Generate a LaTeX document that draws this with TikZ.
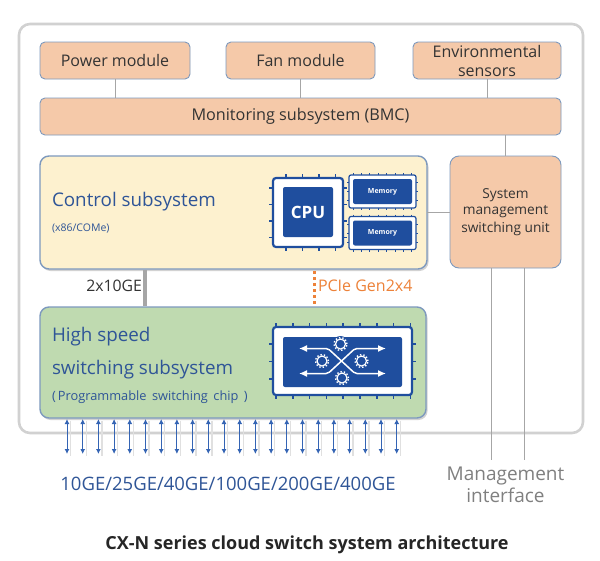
\documentclass[tikz,border=0pt]{standalone}
\usepackage{fontspec}
\setmainfont{Open Sans}
\usetikzlibrary{arrows.meta,shadows}
\definecolor{peach}{HTML}{F5C9A9}
\definecolor{cream}{HTML}{FDF1CF}
\definecolor{sage}{HTML}{BFDAB0}
\definecolor{bord}{HTML}{7D99BE}
\definecolor{chip}{HTML}{1F4E9E}
\definecolor{linkblue}{HTML}{3464B4}
\definecolor{bluetxt}{HTML}{2F5597}
\definecolor{grayline}{HTML}{A6A6A6}
\definecolor{dtxt}{HTML}{333333}
\definecolor{orangeln}{HTML}{ED8239}
\tikzset{
  every node/.style={inner sep=0pt,outer sep=0pt,align=center},
  peachbox/.style={draw=bord,line width=0.9pt,fill=peach,rounded corners=5pt,text=dtxt,font=\fontsize{16}{19}\selectfont},
  bigbox/.style={draw=bord,line width=1.4pt,rounded corners=9pt,drop shadow={shadow xshift=1.5pt,shadow yshift=-2pt,opacity=0.35,fill=gray}},
  conn/.style={draw=grayline,line width=0.9pt},
  pin/.style={draw=chip,line width=1.6pt},
  chipframe/.style={draw=chip,fill=white,line width=2.2pt,rounded corners=3pt},
  chipcore/.style={fill=chip,rounded corners=2pt,text=white},
  bilink/.style={draw=linkblue,line width=1pt,{Latex[length=5pt,width=5pt]}-{Latex[length=5pt,width=5pt]}},
  shadowlink/.style={draw=black!12,line width=1.4pt},
  flowarrow/.style={draw=white,line width=1.5pt,{Latex[length=8pt,width=7pt]}-{Latex[length=8pt,width=7pt]},rounded corners=2pt},
  gear/.style={draw=white,line width=1.2pt},
  bluelabel/.style={text=bluetxt,anchor=west}
}
\begin{document}
\begin{tikzpicture}[x=1pt,y=-1pt]
\useasboundingbox (0,0) rectangle (600,560);
\fill[white] (0,0) rectangle (600,560);
\draw[draw=black!18,line width=2.6pt,rounded corners=11pt,fill=white] (19,24) rectangle (583,433);
% peach boxes
\node[peachbox,minimum width=150pt,minimum height=37pt] (power) at (115,60.5) {Power module};
\node[peachbox,minimum width=149pt,minimum height=37pt] (fan) at (300.5,60.5) {Fan module};
\node[peachbox,minimum width=148pt,minimum height=37pt] (env) at (487,60.5) {\fontsize{16}{18.5}\selectfont Environmental\\sensors};
\node[peachbox,minimum width=521pt,minimum height=37pt] (bmc) at (300.5,116.5) {\fontsize{16.2}{19}\selectfont Monitoring subsystem (BMC)};
\node[peachbox,rounded corners=9pt,minimum width=111pt,minimum height=112pt,font=\fontsize{13.7}{17.5}\selectfont] (sms) at (505.5,212) {\raisebox{-4pt}{System}\\\raisebox{-2.5pt}{management}\\\raisebox{-2.5pt}{switching unit}};
% connectors top
\draw[conn] (power.south) -- (power.south |- bmc.north);
\draw[conn] (fan.south) -- (fan.south |- bmc.north);
\draw[conn] (env.south) -- (env.south |- bmc.north);
\draw[conn] (sms.north |- bmc.south) -- (sms.north);
% big boxes
\node[bigbox,fill=cream,minimum width=387pt,minimum height=113pt] (ctrl) at (233.5,212.5) {};
\node[bigbox,fill=sage,minimum width=386pt,minimum height=111pt] (hs) at (233,362.5) {};
\draw[conn] (ctrl.east |- sms.west) -- (sms.west);
% links between
\coordinate (ga) at (145,270);
\coordinate (gb) at (145,306);
\coordinate (pa) at (314,271);
\coordinate (pb) at (314,306);
\draw[draw=grayline,line width=3.6pt] (ga) -- (gb);
\draw[draw=orangeln,line width=3pt,dash pattern=on 3pt off 3pt] (pa) -- (pb);
\node[anchor=east,text=dtxt,font=\fontsize{15.8}{19}\selectfont] (l10) at (142,286) {2x10GE};
\node[anchor=west,text=orangeln,font=\fontsize{16}{19}\selectfont] (lpcie) at (318,286) {PCIe Gen2x4};
% texts
\node[bluelabel,font=\fontsize{18.8}{22}\selectfont] (c1) at (52,202) {Control subsystem};
\node[bluelabel,font=\fontsize{10.5}{14}\selectfont] (c2) at (52,229) {(x86/COMe)};
\node[bluelabel,font=\fontsize{18.8}{22}\selectfont] (h1) at (52,336.5) {High speed};
\node[bluelabel,font=\fontsize{18.8}{22}\selectfont] (h2) at (52,370) {switching subsystem};
\node[bluelabel,font=\fontsize{12.8}{15}\selectfont] (h3) at (52,397) {(\,Programmable\, switching\, chip\, )};
% CPU chip
\foreach \p in {0,1,2,3}{
  \draw[pin] ({286+\p*16.5},174) -- ({286+\p*16.5},251);
  \draw[pin] (269,{188+\p*16.5}) -- (347,{188+\p*16.5});
}
\node[chipframe,minimum width=70pt,minimum height=69pt] (cpu) at (308,212.5) {};
\node[chipcore,minimum width=50pt,minimum height=50pt,font=\bfseries\fontsize{17}{20}\selectfont] (cpucore) at (308,212) {CPU};
% memory chips
\foreach \cy/\nm in {191.5/Memory,233/Memory}{
  \foreach \p in {0,...,7}{
    \draw[draw=chip,line width=0.8pt] ({353+\p*8.4},{\cy-18.5}) -- ({353+\p*8.4},{\cy+18.5});
  }
  \foreach \p in {0,1,2}{
    \draw[draw=chip,line width=0.8pt] (347,{\cy-9+\p*9}) -- (418,{\cy-9+\p*9});
  }
  \node[draw=chip,fill=white,line width=1.2pt,rounded corners=2pt,minimum width=67pt,minimum height=33pt] at (382.5,\cy) {};
  \node[chipcore,minimum width=59pt,minimum height=25pt,font=\bfseries\fontsize{7}{9}\selectfont] at (382.5,\cy) {\nm};
}
% switch chip
\foreach \p in {0,...,8}{
  \draw[pin] ({276+\p*16.8},323) -- ({276+\p*16.8},399);
}
\foreach \p in {0,1,2}{
  \draw[pin] (269,{344+\p*17.5}) -- (416,{344+\p*17.5});
}
\node[chipframe,minimum width=139pt,minimum height=68pt] (sw) at (342.5,361) {};
\node[chipcore,minimum width=119pt,minimum height=50pt] (swcore) at (342.5,362) {};
\draw[flowarrow] (299,348.5) -- (328,348.5) -- (355,373.5) -- (386,373.5);
\draw[flowarrow] (299,373.5) -- (328,373.5) -- (355,348.5) -- (386,348.5);
\foreach \gx/\gy in {340.5/344,322/361,361.5/361,342/378}{
  \fill[chip] (\gx,\gy) circle (8pt);
  \draw[gear] (\gx,\gy) circle (5pt);
  \draw[draw=white,line width=1.4pt,dash pattern=on 1.4pt off 2pt] (\gx,\gy) circle (6.4pt);
}
% IO arrows
\foreach \i in {0,...,21}{
  \draw[shadowlink] ({70.5+\i*15.7},421) -- ({70.5+\i*15.7},456);
  \draw[bilink] ({67+\i*15.7},419) -- ({67+\i*15.7},454);
}
\node[text=bluetxt,font=\fontsize{18.5}{22}\selectfont] (speed) at (228,484) {10GE/25GE/40GE/100GE/200GE/400GE};
% management
\coordinate (m1) at (491,460);
\coordinate (m2) at (524,460);
\draw[conn] (m1 |- sms.south) -- (m1);
\draw[conn] (m2 |- sms.south) -- (m2);
\node[text=black!50,font=\fontsize{19}{22}\selectfont] (mgmt) at (505.5,484.5) {Management\\interface};
% caption
\node[font=\bfseries\fontsize{18}{21}\selectfont,text=black!85] (cap) at (307,544.5) {CX-N series cloud switch system architecture};
\end{tikzpicture}
\end{document}
